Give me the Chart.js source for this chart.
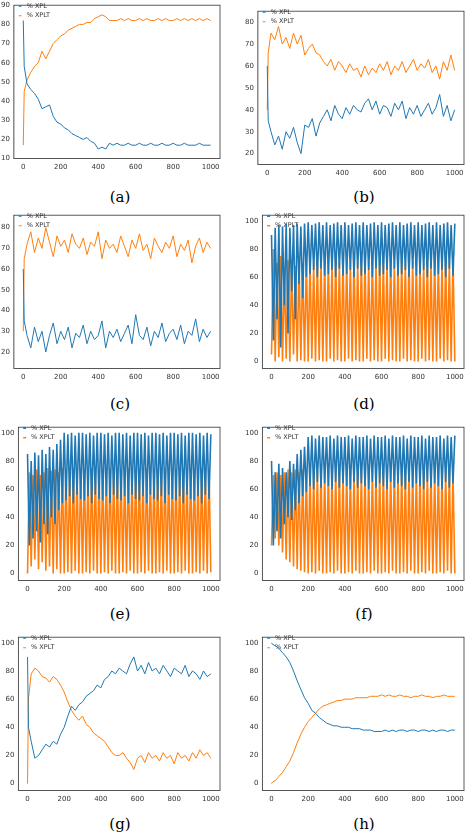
<!DOCTYPE html>
<html lang="en">
<head>
<meta charset="UTF-8">
<title>XPL / XPLT</title>
<script src="https://cdn.jsdelivr.net/npm/chart.js"></script>
<style>
    body { margin: 0; background: #fff; width: 474px; height: 837px; position: relative; overflow: hidden; }
    .panel { position: absolute; }
    .lbl { position: absolute; font-family: 'DejaVu Serif', serif; font-size: 15px; text-align: center; width: 40px; }
</style>
</head>
<body>
<script>
// x positions: 0, 5, then every 20 steps (smooth panels); every 10 steps (dense panels)
const xs = [0, 5];
for (let s = 20; s <= 1000; s += 20) xs.push(s);
const xsDense = [];
for (let s = 0; s <= 1000; s += 10) xsDense.push(s);
const xTicks = [0, 200, 400, 600, 800, 1000];

const aXPL = [82,58,49,46,44,41,36,37,38,32,29,28,26,25,23,22,21,20,21,19,18,15,16,15,18,17,18,17,17,18,17,17,18,17,17,18,17,17,18,17,17,18,17,17,18,17,17,17,18,17,17,17];
const aXPLT = [17,45,51,55,58,60,66,62,66,70,72,74,75,77,78,79,80,80,81,81,83,84,85,84,82,82,82,83,82,83,82,82,83,82,83,82,82,83,82,83,82,82,83,82,83,82,83,82,83,82,83,82];
const bXPL = [60,35,30,24,28,22,30,27,32,25,20,33,32,36,28,34,37,40,35,42,38,36,41,38,42,40,39,43,45,40,44,38,42,41,37,43,40,44,36,41,38,42,37,40,43,38,41,47,37,42,35,40];
const bXPLT = [40,66,75,72,78,70,73,68,75,70,74,65,68,70,66,65,62,60,63,58,62,60,57,61,58,59,55,60,56,59,57,61,58,62,56,60,58,62,57,60,63,58,61,59,63,57,60,54,62,58,65,58];
const cXPL = [60,35,28,22,32,25,30,20,28,34,24,30,26,32,22,29,27,33,24,30,26,28,35,22,30,27,31,25,29,33,24,38,28,26,32,23,30,27,34,25,29,31,26,33,24,30,28,36,25,31,27,30];
const cXPLT = [30,65,72,78,68,75,70,80,73,66,76,71,74,68,77,72,70,75,67,73,71,78,65,74,70,72,68,76,71,66,74,70,77,69,72,65,75,71,68,73,70,76,66,72,69,74,63,71,75,68,73,70];
const dXPL = [90,15,95,30,97,10,96,40,98,20,95,50,97,30,98,55,96,45,98,60,
    99,62,97,65,98,60,99,66,97,61,99,62,97,65,98,60,99,66,97,61,99,62,97,65,98,60,99,66,97,61,99,62,97,65,98,60,99,66,97,61,
    99,62,97,65,98,60,99,66,97,61,99,62,97,65,98,60,99,66,97,61,99,62,97,65,98,60,99,66,97,61,99,62,97,65,98,60,99,66,97,61,98];
const dXPLT = [5,80,0,70,3,75,0,65,2,72,0,70,5,68,0,72,1,70,0,73,
    0,72,2,70,0,74,1,71,0,73,0,72,2,70,0,74,1,71,0,73,0,72,2,70,0,74,1,71,0,73,0,72,2,70,0,74,1,71,0,73,
    0,72,2,70,0,74,1,71,0,73,0,72,2,70,0,74,1,71,0,73,0,72,2,70,0,74,1,71,0,73,0,72,2,70,0,74,1,71,0,73,0];
const eXPL = [85,20,80,25,86,30,84,22,88,35,85,28,90,40,88,35,92,45,95,50,
    100,52,99,55,100,50,98,56,100,53,100,52,99,55,100,50,98,56,100,53,100,52,99,55,100,50,98,56,100,53,100,52,99,55,100,50,98,56,100,53,
    100,52,99,55,100,50,98,56,100,53,100,52,99,55,100,50,98,56,100,53,100,52,99,55,100,50,98,56,100,53,100,52,99,55,100,50,98,56,100,53,99];
const eXPLT = [0,72,5,70,10,74,3,70,8,72,2,75,5,73,0,74,3,72,0,75,
    0,74,1,72,0,75,2,73,0,74,0,74,1,72,0,75,2,73,0,74,0,74,1,72,0,75,2,73,0,74,0,74,1,72,0,75,2,73,0,74,
    0,74,1,72,0,75,2,73,0,74,0,74,1,72,0,75,2,73,0,74,0,74,1,72,0,75,2,73,0,74,0,74,1,72,0,75,2,73,0,74,1];
const fXPL = [80,20,72,30,78,25,75,35,72,40,80,38,78,45,85,50,88,55,90,58,
    97,62,98,60,96,65,98,61,97,64,97,62,98,60,96,65,98,61,97,64,97,62,98,60,96,65,98,61,97,64,97,62,98,60,96,65,98,61,97,64,
    97,62,98,60,96,65,98,61,97,64,97,62,98,60,96,65,98,61,97,64,97,62,98,60,96,65,98,61,97,64,97,62,98,60,96,65,98,61,97,64,98];
const fXPLT = [20,70,25,72,20,70,15,72,10,74,8,72,5,74,3,72,2,74,1,73,
    0,74,1,72,0,73,2,74,0,72,0,74,1,72,0,73,2,74,0,72,0,74,1,72,0,73,2,74,0,72,0,74,1,72,0,73,2,74,0,72,
    0,74,1,72,0,73,2,74,0,72,0,74,1,72,0,73,2,74,0,72,0,74,1,72,0,73,2,74,0,72,0,74,1,72,0,73,2,74,0,72,0];
const gXPL = [90,40,30,18,20,24,28,26,30,28,35,40,48,55,52,56,58,62,64,66,70,68,74,76,80,78,82,80,78,85,90,80,84,78,86,80,82,78,84,80,76,82,80,78,84,76,80,78,74,80,76,78];
const gXPLT = [0,60,78,82,80,76,75,72,76,74,70,65,58,52,48,45,48,42,40,36,34,32,30,26,22,20,20,22,18,15,10,18,20,15,22,18,20,16,22,18,20,14,22,18,20,16,22,18,24,20,22,18];
const hXPL = [100,99,98,96,93,90,86,80,73,67,61,57,52,50,47,45,43,42,41,41,40,40,40,39,39,39,38,38,38,37,37,37,38,37,38,37,38,38,37,38,38,37,38,38,37,38,37,38,38,37,38,38];
const hXPLT = [0,1,2,5,8,12,16,22,29,35,40,44,47,50,53,55,56,57,58,59,59,60,60,60,61,61,61,61,62,62,62,63,62,63,62,62,63,62,62,61,62,62,63,62,62,61,62,62,63,62,62,62];

const panels = [
    { id: 'a', l: 0,   t: 0,   xpl: aXPL, xplt: aXPLT, ymin: 10, ymax: 90, yt: [10,20,30,40,50,60,70,80,90] },
    { id: 'b', l: 244, t: 6,   xpl: bXPL, xplt: bXPLT, ymin: 15, ymax: 85, yt: [20,30,40,50,60,70,80] },
    { id: 'c', l: 0,   t: 210, xpl: cXPL, xplt: cXPLT, ymin: 12, ymax: 86, yt: [20,30,40,50,60,70,80] },
    { id: 'd', l: 244, t: 210, xpl: dXPL, xplt: dXPLT, ymin: -5, ymax: 104, yt: [0,20,40,60,80,100], dense: true },
    { id: 'e', l: 0,   t: 422, xpl: eXPL, xplt: eXPLT, ymin: -5, ymax: 104, yt: [0,20,40,60,80,100], dense: true },
    { id: 'f', l: 244, t: 422, xpl: fXPL, xplt: fXPLT, ymin: -5, ymax: 104, yt: [0,20,40,60,80,100], dense: true },
    { id: 'g', l: 0,   t: 632, xpl: gXPL, xplt: gXPLT, ymin: -5, ymax: 104, yt: [0,20,40,60,80,100] },
    { id: 'h', l: 244, t: 632, xpl: hXPL, xplt: hXPLT, ymin: -5, ymax: 104, yt: [0,20,40,60,80,100] }
];
const labelTops = [188, 395, 605, 815];

const frame = {
    id: 'frame',
    afterDraw(chart) {
        const a = chart.chartArea, c = chart.ctx;
        c.save();
        c.strokeStyle = '#333';
        c.lineWidth = 0.8;
        c.strokeRect(a.left, a.top, a.right - a.left, a.bottom - a.top);
        c.restore();
    }
};

panels.forEach((p, k) => {
    const div = document.createElement('div');
    div.className = 'panel';
    div.style.left = p.l + 'px';
    div.style.top = p.t + 'px';
    div.style.width = '228px';
    div.style.height = '172px';
    const cv = document.createElement('canvas');
    div.appendChild(cv);
    document.body.appendChild(div);

    const lbl = document.createElement('div');
    lbl.className = 'lbl';
    lbl.textContent = '(' + p.id + ')';
    lbl.style.left = (p.l + 100) + 'px';
    lbl.style.top = labelTops[Math.floor(k / 2)] + 'px';
    document.body.appendChild(lbl);

    const xv = p.dense ? xsDense : xs;
    const lw = p.dense ? 1.6 : 1;
    const pts = arr => arr.map((v, i) => ({ x: xv[i], y: v }));
    new Chart(cv, {
        type: 'line',
        data: {
            datasets: [
                { label: '% XPL', data: pts(p.xpl), borderColor: '#1f77b4', backgroundColor: '#1f77b4', borderWidth: lw, pointRadius: 0, tension: 0 },
                { label: '% XPLT', data: pts(p.xplt), borderColor: '#ff7f0e', backgroundColor: '#ff7f0e', borderWidth: lw, pointRadius: 0, tension: 0 }
            ]
        },
        options: {
            animation: false,
            responsive: true,
            maintainAspectRatio: false,
            layout: { padding: { right: 8, top: 2 } },
            plugins: {
                legend: {
                    position: 'chartArea',
                    align: 'start',
                    labels: {
                        usePointStyle: true, pointStyle: 'line', boxWidth: 14, boxHeight: 2,
                        padding: 3, font: { size: 6.5, family: 'DejaVu Sans' }, color: '#333'
                    }
                },
                tooltip: { enabled: false }
            },
            scales: {
                x: {
                    type: 'linear', min: -50, max: 1050,
                    afterBuildTicks: s => { s.ticks = xTicks.map(v => ({ value: v })); },
                    grid: { display: false, drawTicks: true, tickLength: 3 },
                    ticks: { font: { size: 7, family: 'DejaVu Sans' }, color: '#333', maxRotation: 0, padding: 1, callback: v => String(v) }
                },
                y: {
                    min: p.ymin, max: p.ymax,
                    afterBuildTicks: s => { s.ticks = p.yt.map(v => ({ value: v })); },
                    grid: { display: false, drawTicks: true, tickLength: 3 },
                    ticks: { font: { size: 7, family: 'DejaVu Sans' }, color: '#333', padding: 1, callback: v => String(v) }
                }
            }
        },
        plugins: [frame]
    });
});
</script>
</body>
</html>
